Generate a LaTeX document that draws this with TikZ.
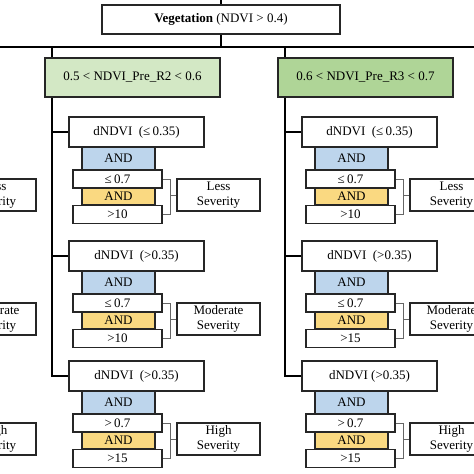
\documentclass[tikz,border=0pt]{standalone}
\usepackage{fontspec}
\setmainfont{Liberation Serif}
\usetikzlibrary{backgrounds}
\definecolor{gLight}{HTML}{D3E8C5}
\definecolor{gDark}{HTML}{AFD597}
\definecolor{andBlue}{HTML}{BDD5EC}
\definecolor{andYellow}{HTML}{FAD981}
\tikzset{
  base/.style={draw=black!85, line width=1.1pt, inner sep=0pt, align=center,
    font=\fontsize{13}{14.5}\selectfont},
  whitebox/.style={base, fill=white},
  greenL/.style={base, fill=gLight},
  greenD/.style={base, fill=gDark},
  andb/.style={base, fill=andBlue},
  andy/.style={base, fill=andYellow},
  tree/.style={line width=2.4pt, black},
  brk/.style={line width=0.7pt, black!60},
}
% #1 name, #2 dx, #3 dy, #4 dNDVI text, #5 first cond, #6 second cond, #7 severity
\newcommand{\sevcell}[7]{%
  \node[whitebox, minimum width=135pt, minimum height=30pt] (#1d) at (136.5+#2, 132+#3) {#4};
  \node[andb, minimum width=73pt, minimum height=23pt] (#1a) at (118.5+#2, 158.5+#3) {AND};
  \node[whitebox, minimum width=89pt, minimum height=18pt] (#1b) at (117.5+#2, 179+#3) {#5};
  \node[andy, minimum width=73pt, minimum height=17pt] (#1y) at (118.5+#2, 196.5+#3) {AND};
  \node[whitebox, minimum width=89pt, minimum height=18pt] (#1c) at (117.5+#2, 214.5+#3) {#6};
  \node[whitebox, minimum width=83pt, minimum height=32pt] (#1s) at (218.5+#2, 195+#3) {#7};
  \begin{pgfonlayer}{background}
    \draw[brk] (#1b.east) -- ++(8,0) coordinate (#1k) |- (#1c.east);
    \draw[brk] (#1k |- #1s.west) -- (#1s.west);
  \end{pgfonlayer}
}
\begin{document}
\begin{tikzpicture}[x=1pt, y=-1pt]
\clip (0,0) rectangle (474,474);
\begin{pgfonlayer}{background}
  \fill[white] (0,0) rectangle (474,474);
\end{pgfonlayer}

\node[whitebox, minimum width=238pt, minimum height=29pt] (top) at (221,19.5)
  {\textbf{Vegetation} (NDVI > 0.4)};
\coordinate (topTick) at (221,0);
\coordinate (hl) at (0,47);
\coordinate (hr) at (474,47);

\node[greenL, minimum width=175pt, minimum height=39pt] (gL) at (132.5,77.5)
  {0.5 < NDVI\_Pre\_R2 < 0.6};
\node[greenD, minimum width=175pt, minimum height=39pt] (gR) at (365.5,77.5)
  {0.6 < NDVI\_Pre\_R3 < 0.7};

\coordinate (vL) at (52,47);
\coordinate (vR) at (285,47);

% left column
\sevcell{La}{0}{0}{dNDVI\enspace(≤\,0.35)}{≤\,0.7}{>10}{Less\\Severity}
\sevcell{Lb}{0}{124}{dNDVI\enspace(>0.35)}{≤\,0.7}{>10}{Moderate\\Severity}
\sevcell{Lc}{0}{244}{dNDVI\enspace(>0.35)}{>\,0.7}{>15}{High\\Severity}
% right column
\sevcell{Ra}{233}{0}{dNDVI\enspace(≤\,0.35)}{≤\,0.7}{>10}{Less\\Severity}
\sevcell{Rb}{233}{124}{dNDVI\enspace(>0.35)}{≤\,0.7}{>15}{Moderate\\Severity}
\sevcell{Rc}{233}{244}{dNDVI (>0.35)}{>\,0.7}{>15}{High\\Severity}

% partially visible boxes of a further column at the left edge
\node[whitebox, minimum width=83pt, minimum height=32pt] (Xa) at (-5.5,195) {Less\\Severity};
\node[whitebox, minimum width=83pt, minimum height=32pt] (Xb) at (-5.5,319) {Moderate\\Severity};
\node[whitebox, minimum width=83pt, minimum height=32pt] (Xc) at (-5.5,439) {High\\Severity};

\begin{pgfonlayer}{background}
  \draw[tree] (top.north) -- (topTick);
  \draw[tree] (top.south) -- (top.south |- hl);
  \draw[tree] (hl) -- (hr);
  \draw[tree] (vL) |- (Lcd.west);
  \draw[tree] (vL |- Lad.west) -- (Lad.west);
  \draw[tree] (vL |- Lbd.west) -- (Lbd.west);
  \draw[tree] (vR) |- (Rcd.west);
  \draw[tree] (vR |- Rad.west) -- (Rad.west);
  \draw[tree] (vR |- Rbd.west) -- (Rbd.west);
\end{pgfonlayer}
\end{tikzpicture}
\end{document}
